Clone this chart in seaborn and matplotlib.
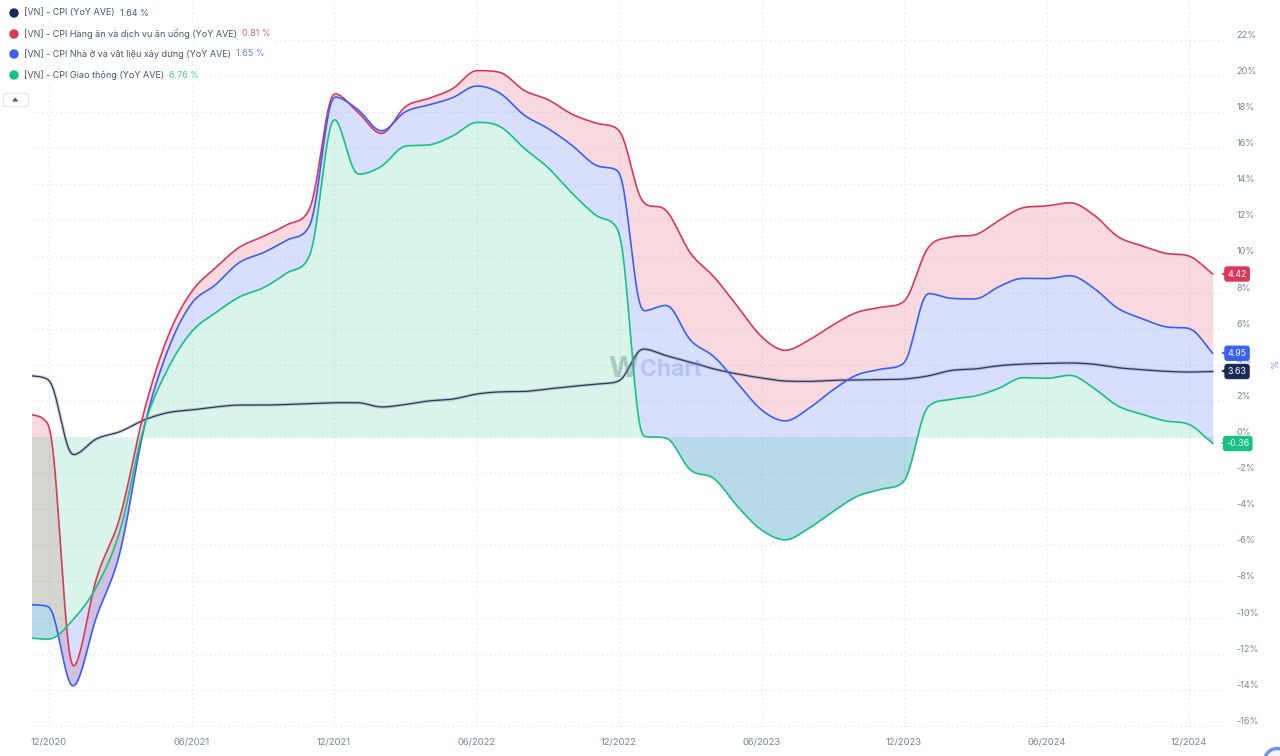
import numpy as np
import pandas as pd
import seaborn as sns
import matplotlib
matplotlib.use("Agg")
import matplotlib.pyplot as plt
from matplotlib.patches import FancyBboxPatch, Circle, Polygon
from matplotlib.transforms import IdentityTransform, offset_copy

# Monthly values, 11/2020 to 01/2025 (percent, year on year)
months = list(range(-1, 50))
cpi_total = [3.43, 3.16, -1.0, -0.1, 0.3, 0.94, 1.35, 1.5, 1.66, 1.77, 1.77, 1.8, 1.85, 1.9, 1.9, 1.66, 1.8,
             2.0, 2.1, 2.38, 2.5, 2.52, 2.66, 2.8, 2.93, 3.1, 4.88, 4.5, 4.15, 3.77, 3.49, 3.27, 3.1, 3.08,
             3.14, 3.16, 3.18, 3.21, 3.38, 3.69, 3.77, 3.95, 4.04, 4.08, 4.1, 4.03, 3.84, 3.73, 3.64, 3.6, 3.63]
cpi_food = [1.35, 0.66, -12.8, -7.8, -4.4, 1.4, 5.55, 8.05, 9.36, 10.5, 11.1, 11.75, 12.7, 19.04, 18.0, 16.8,
            18.3, 18.76, 19.3, 20.3, 20.2, 19.2, 18.7, 17.9, 17.4, 17.0, 13.03, 12.54, 10.2, 8.87, 7.22, 5.56,
            4.8, 5.37, 6.2, 6.9, 7.18, 7.5, 10.47, 11.08, 11.2, 12.0, 12.7, 12.8, 12.98, 12.3, 11.1, 10.6,
            10.18, 10.03, 9.03]
cpi_housing = [-9.27, -9.4, -13.85, -9.95, -6.35, 0.5, 4.8, 7.4, 8.42, 9.66, 10.2, 10.9, 11.75, 18.85, 18.15,
               16.95, 18.02, 18.4, 18.8, 19.45, 19.04, 17.84, 17.1, 16.18, 15.07, 14.7, 6.98, 7.3, 5.37, 4.45,
               2.97, 1.5, 0.89, 1.59, 2.6, 3.43, 3.75, 4.08, 7.96, 7.68, 7.65, 8.33, 8.79, 8.77, 8.94, 8.24,
               7.13, 6.57, 6.11, 6.02, 4.64]
cpi_transport = [-11.13, -11.2, -10.14, -8.3, -5.15, 0.57, 3.77, 5.83, 6.87, 7.75, 8.25, 9.08, 10.1, 17.66,
                 14.55, 15.0, 16.12, 16.18, 16.68, 17.43, 17.2, 16.0, 14.94, 13.54, 12.3, 11.37, 0.05, -0.06,
                 -1.83, -2.3, -3.86, -5.15, -5.7, -5.05, -4.14, -3.3, -2.9, -2.47, 1.68, 2.09, 2.27, 2.7, 3.29,
                 3.25, 3.42, 2.7, 1.72, 1.27, 0.89, 0.7, -0.36]

series_names = ["[VN] - CPI (YoY AVE)",
                "[VN] - CPI Hàng ăn và dịch vụ ăn uống (YoY AVE)",
                "[VN] - CPI Nhà ở và vật liệu xây dựng (YoY AVE)",
                "[VN] - CPI Giao thông (YoY AVE)"]
legend_values = ["1.64 %", "0.81 %", "1.65 %", "6.76 %"]
end_tags = ["3.63", "4.42", "4.95", "-0.36"]
x_ticks = [0, 6, 12, 18, 24, 30, 36, 42, 48]
x_labels = ["12/2020", "06/2021", "12/2021", "06/2022", "12/2022",
            "06/2023", "12/2023", "06/2024", "12/2024"]
y_ticks = list(range(-16, 24, 2))

NAVY, RED, BLUE, GREEN = "#1b2a55", "#d8395a", "#3a60f2", "#17c183"
colors = [NAVY, RED, BLUE, GREEN]
TICK_GREY = "#7b8597"
TEXT_GREY = "#4a5468"
value_colors = ["#4a5a8a", "#ee5c74", "#5f82f6", "#3fd29c"]

W, H = 1280, 756


def monotone_curve(x, y, fine):
    """Shape-preserving cubic through monthly points, with softened joins."""
    x, y = np.asarray(x, float), np.asarray(y, float)
    h = np.diff(x)
    s = np.diff(y) / h
    d = np.zeros_like(y)
    same = s[:-1] * s[1:] > 0
    centred = (s[:-1] + s[1:]) / 2
    limit = 3 * np.minimum(np.abs(s[:-1]), np.abs(s[1:]))
    d[1:-1][same] = (np.sign(centred) * np.minimum(np.abs(centred), limit))[same]
    d[0], d[-1] = s[0], s[-1]
    i = np.clip(np.searchsorted(x, fine) - 1, 0, len(h) - 1)
    t = (fine - x[i]) / h[i]
    curve = ((2 * t**3 - 3 * t**2 + 1) * y[i] + (t**3 - 2 * t**2 + t) * h[i] * d[i]
             + (-2 * t**3 + 3 * t**2) * y[i + 1] + (t**3 - t**2) * h[i] * d[i + 1])
    # Light box filter to round off what is left of the corners
    width = 7
    padded = np.pad(curve, width, mode="edge")
    smooth = np.convolve(padded, np.ones(width) / width, mode="same")[width:-width]
    smooth[-width:] = curve[-width:]
    return smooth


sns.set_theme(style="white", rc={"font.family": ["Inter", "DejaVu Sans"]})
plt.rcParams["font.family"] = ["Inter", "DejaVu Sans"]

fig = plt.figure(figsize=(W / 100, H / 100), dpi=100, facecolor="white")
left, right, top, bottom = 32, 1225, 0, 727
ax = fig.add_axes([left / W, 1 - bottom / H, (right - left) / W, (bottom - top) / H])

fine = np.linspace(months[0], months[-1], (len(months) - 1) * 24 + 1)
curves = [monotone_curve(months, v, fine) for v in (cpi_total, cpi_food, cpi_housing, cpi_transport)]
frame = pd.DataFrame({"month": np.tile(fine, 4),
                      "value": np.concatenate(curves),
                      "series": np.repeat(series_names, len(fine))})

# Bands between neighbouring series; the last one closes on the zero line
ax.fill_between(fine, curves[1], curves[2], color=RED, alpha=0.19, lw=0, zorder=1)
ax.fill_between(fine, curves[2], curves[3], color=BLUE, alpha=0.2, lw=0, zorder=1)
ax.fill_between(fine, curves[3], 0, color=GREEN, alpha=0.16, lw=0, zorder=1)

# Headline CPI sits on a soft grey halo and is drawn finer than the others
ax.plot(fine, curves[0], color="#6a7080", alpha=0.3, lw=2.4, zorder=2, solid_capstyle="round")
sns.lineplot(data=frame[frame["series"] == series_names[0]], x="month", y="value",
             color="#2a3860", estimator=None, sort=False, lw=0.9, ax=ax, zorder=3)
sns.lineplot(data=frame[frame["series"] != series_names[0]], x="month", y="value", hue="series",
             hue_order=series_names[1:], palette=dict(zip(series_names, colors)), estimator=None,
             sort=False, legend=False, lw=1.2, ax=ax, zorder=3)

px_per_pct = 18.05
ax.set_xlim((left - 49) / 23.75, (right - 49) / 23.75)
ax.set_ylim((437 - bottom) / px_per_pct, (437 - top) / px_per_pct)

ax.set_axisbelow(True)
ax.grid(True, color="#dfe2e7", lw=0.8, ls=(0, (1.2, 3)))
sns.despine(ax=ax, left=True, bottom=True, right=True, top=True)
ax.set_xlabel("")
ax.set_ylabel("")
ax.set_xticks(x_ticks, x_labels)
ax.yaxis.tick_right()
ax.set_yticks(y_ticks, [f"{v}%" for v in y_ticks])
ax.tick_params(axis="x", length=0, pad=8, labelsize=6.8, labelcolor=TICK_GREY)
ax.tick_params(axis="y", length=0, pad=8.5, labelsize=6.6, labelcolor=TICK_GREY)
for lab in ax.get_yticklabels():
    lab.set_va("bottom")

# End-of-series tags
end_levels = [c[-1] for c in curves]
for level, tag, color in zip(end_levels, end_tags, colors):
    pointer = offset_copy(ax.transData, fig=fig, x=13, y=0, units="dots")
    ax.plot([months[-1]], [level], marker="<", ms=6.5, color=color, mew=0, clip_on=False,
            transform=pointer, zorder=8)
    ax.annotate(tag, xy=(months[-1], level), xytext=(17.5 if tag != "-0.36" else 18, 0),
                textcoords="offset points", ha="center", va="center", color="white", fontsize=6.4,
                annotation_clip=False, zorder=9,
                bbox=dict(boxstyle="round,pad=0.36", fc=color, ec="none"))

# Unit marker on the far right
fig.text(1272 / W, 1 - 365 / H, "%", rotation=-90, color="#6f8cf0", fontsize=6.5, ha="center", va="center")

# Watermark
fig.text(608 / W, 1 - 377 / H, "W", color="#5f8585", alpha=0.4, fontsize=20.5, fontweight="bold", zorder=1.5)
fig.text(640 / W, 1 - 376 / H, "Chart", color="#5e78f0", alpha=0.27, fontsize=16.5, fontweight="bold", zorder=1.5)

# Legend rows
value_x = [120, 242, 236, 169]
for row_y, name, value, color, vcolor, vx in zip([13, 34, 54, 75], series_names, legend_values,
                                                 colors, value_colors, value_x):
    fig.text(24 / W, 1 - row_y / H, name, color=TEXT_GREY, fontsize=6.5, va="center", zorder=6,
             bbox=dict(fc="white", ec="none", pad=2.5))
    fig.text(vx / W, 1 - row_y / H, value, color=vcolor, fontsize=6.5, va="center", zorder=6,
             bbox=dict(fc="white", ec="none", pad=2.5))
    fig.add_artist(Circle((14, H - row_y), 4.7, transform=IdentityTransform(), fc=color, ec="none", zorder=7))

# Collapse button under the legend
fig.add_artist(FancyBboxPatch((5, H - 105), 22, 10, boxstyle="round,pad=1.5,rounding_size=2",
                              transform=IdentityTransform(), fc="white", ec="#e3e6ea", lw=0.8, zorder=6))
fig.add_artist(Polygon([(12, H - 101.5), (18.5, H - 101.5), (15.2, H - 97.5)], closed=True,
                       transform=IdentityTransform(), fc="#4a5a78", ec="none", zorder=7))

# Help bubble cut off by the bottom-right corner
fig.add_artist(Circle((1277, H - 761), 12.5, transform=IdentityTransform(), fc="#f2f5ff",
                      ec="#6f90f5", lw=2.4, zorder=7))

fig.savefig("out.png", dpi=100, facecolor="white")
